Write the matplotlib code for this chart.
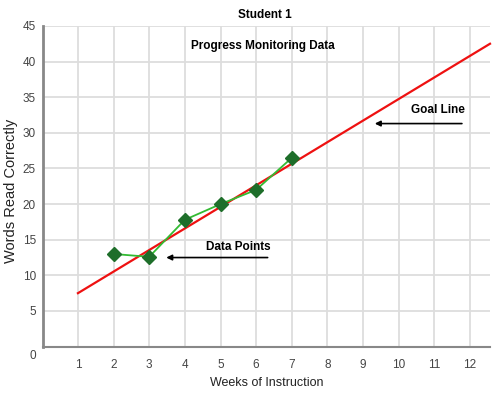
import matplotlib.pyplot as plt
import matplotlib.transforms as mtransforms

plt.rcParams['font.family'] = ['Liberation Sans', 'DejaVu Sans']

# data
weeks = [2, 3, 4, 5, 6, 7]
words = [13.0, 12.6, 17.8, 20.0, 22.0, 26.5]
goal_x = [1, 12.56]
goal_y = [7.5, 42.5]
xticks = list(range(1, 13))
yticks = list(range(0, 46, 5))

fig = plt.figure(figsize=(5, 3.93), dpi=100, facecolor='white')
ax = fig.add_axes([0.086, 0.118, 0.894, 0.816])

ax.set_xlim(0.02, 12.56)
ax.set_ylim(0, 45)
ax.set_xticks(xticks)
ax.set_yticks(yticks)
ax.grid(True, color='#dddddd', linewidth=1.3)
ax.set_axisbelow(True)

for s in ['top', 'right']:
    ax.spines[s].set_visible(False)
ax.spines['left'].set_color('#888888')
ax.spines['left'].set_linewidth(2)
ax.spines['bottom'].set_color('#888888')
ax.spines['bottom'].set_linewidth(1.5)
ax.tick_params(length=0, labelsize=8.5, colors='#444444')
ax.tick_params(axis='x', pad=9)
ax.tick_params(axis='y', pad=5)

# the "0" label sits a bit below the axis line in the original
lbl0 = ax.get_yticklabels()[0]
lbl0.set_transform(lbl0.get_transform() + mtransforms.ScaledTranslation(0, -6 / 72, fig.dpi_scale_trans))

# goal line and data
ax.plot(goal_x, goal_y, color='#ee1111', linewidth=1.6, clip_on=False, zorder=3)
ax.plot(weeks, words, color='#33bb33', linewidth=1.3, marker='D', markersize=7,
        markerfacecolor='#1e6e2a', markeredgecolor='#1e6e2a', zorder=4)

ax.set_xlabel('Weeks of Instruction', fontsize=9, color='#222222', labelpad=4)
ax.set_ylabel('Words Read Correctly', fontsize=10.5, color='#222222')
ax.yaxis.set_label_coords(-0.057, 0.485)

fig.text(0.53, 0.963, 'Student 1', ha='center', va='center', fontsize=8.5, fontweight='bold')
ax.text(0.526, 0.883, 'Progress Monitoring Data', transform=fig.transFigure,
        ha='center', va='center', fontsize=8.5, fontweight='bold')

# annotations
ax.annotate('', xy=(9.25, 31.3), xytext=(11.85, 31.3),
            arrowprops=dict(arrowstyle='-|>', color='black', lw=1.2, mutation_scale=8))
ax.text(11.85, 32.4, 'Goal Line', ha='right', va='bottom', fontsize=8.5, fontweight='bold')
ax.annotate('', xy=(3.4, 12.5), xytext=(6.4, 12.5),
            arrowprops=dict(arrowstyle='-|>', color='black', lw=1.2, mutation_scale=8))
ax.text(6.4, 13.2, 'Data Points', ha='right', va='bottom', fontsize=8.5, fontweight='bold')

fig.savefig('out.png', dpi=100)
